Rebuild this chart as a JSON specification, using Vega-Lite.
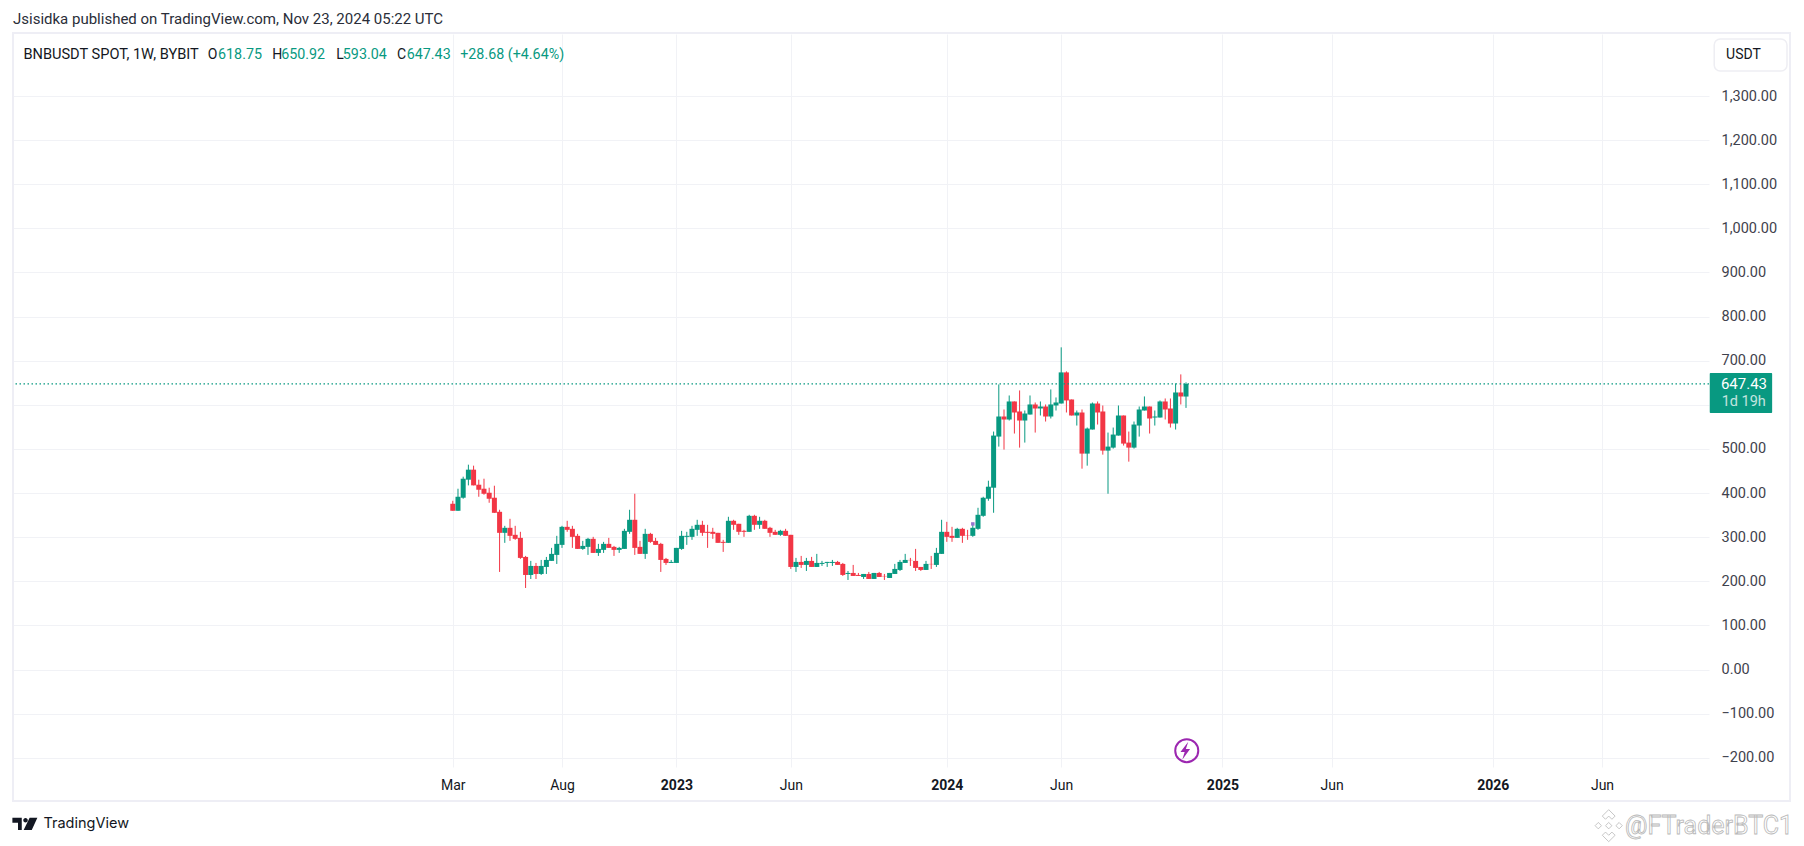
{
  "$schema": "https://vega.github.io/schema/vega-lite/v6.json",
  "description": "BNBUSDT weekly candles, Bybit spot",
  "width": 1696,
  "height": 733,
  "autosize": "none",
  "padding": {"left": 13, "top": 34, "right": 95, "bottom": 79},
  "background": "white",
  "config": {
    "view": {"stroke": null},
    "text": {"font": "Roboto", "fontSize": 14, "align": "left", "baseline": "middle"}
  },
  "title": {
    "text": "Jsisidka published on TradingView.com, Nov 23, 2024 05:22 UTC",
    "anchor": "start",
    "frame": "group",
    "offset": 5,
    "font": "Roboto",
    "fontSize": 15,
    "fontWeight": "normal",
    "color": "#2a2e39"
  },
  "datasets": {
    "candles": [
      {"date":"2022-03-07","open":375.7,"high":382.5,"low":359.8,"close":359.8},
      {"date":"2022-03-14","open":359.8,"high":409.8,"low":359.8,"close":391.6},
      {"date":"2022-03-21","open":389.4,"high":437.1,"low":387.1,"close":432.5},
      {"date":"2022-03-28","open":430.3,"high":464.3,"low":417.4,"close":453.0},
      {"date":"2022-04-04","open":453.0,"high":462.1,"low":417.4,"close":417.4},
      {"date":"2022-04-11","open":418.9,"high":430.3,"low":391.6,"close":407.5},
      {"date":"2022-04-18","open":409.8,"high":432.5,"low":396.2,"close":398.4},
      {"date":"2022-04-25","open":400.7,"high":412.1,"low":378.0,"close":387.1},
      {"date":"2022-05-02","open":389.4,"high":416.6,"low":355.2,"close":355.2},
      {"date":"2022-05-09","open":357.5,"high":362.1,"low":221.2,"close":309.8},
      {"date":"2022-05-16","open":309.8,"high":325.7,"low":287.1,"close":321.2},
      {"date":"2022-05-23","open":321.2,"high":341.6,"low":291.6,"close":303.0},
      {"date":"2022-05-30","open":305.3,"high":325.7,"low":293.9,"close":296.2},
      {"date":"2022-06-06","open":298.4,"high":312.1,"low":250.7,"close":253.0},
      {"date":"2022-06-13","open":255.2,"high":257.5,"low":184.8,"close":214.3},
      {"date":"2022-06-20","open":214.3,"high":246.2,"low":205.2,"close":234.8},
      {"date":"2022-06-27","open":234.8,"high":241.6,"low":205.2,"close":216.6},
      {"date":"2022-07-04","open":216.6,"high":248.4,"low":214.3,"close":234.8},
      {"date":"2022-07-11","open":232.5,"high":255.2,"low":216.6,"close":248.4},
      {"date":"2022-07-18","open":246.2,"high":275.7,"low":246.2,"close":262.1},
      {"date":"2022-07-25","open":259.8,"high":303.0,"low":239.3,"close":284.8},
      {"date":"2022-08-01","open":282.5,"high":325.7,"low":275.7,"close":323.4},
      {"date":"2022-08-08","open":323.4,"high":337.1,"low":312.1,"close":316.6},
      {"date":"2022-08-15","open":318.9,"high":325.7,"low":275.7,"close":300.7},
      {"date":"2022-08-22","open":303.0,"high":307.5,"low":273.4,"close":273.4},
      {"date":"2022-08-29","open":273.4,"high":291.6,"low":271.2,"close":280.2},
      {"date":"2022-09-05","open":278.0,"high":298.4,"low":259.8,"close":296.2},
      {"date":"2022-09-12","open":296.2,"high":300.7,"low":264.3,"close":264.3},
      {"date":"2022-09-19","open":264.3,"high":284.8,"low":257.5,"close":273.4},
      {"date":"2022-09-26","open":271.2,"high":289.3,"low":264.3,"close":284.8},
      {"date":"2022-10-03","open":284.8,"high":298.4,"low":275.7,"close":275.7},
      {"date":"2022-10-10","open":278.0,"high":280.2,"low":257.5,"close":271.2},
      {"date":"2022-10-17","open":271.2,"high":278.0,"low":264.3,"close":275.7},
      {"date":"2022-10-24","open":273.4,"high":318.9,"low":273.4,"close":314.3},
      {"date":"2022-10-31","open":312.1,"high":362.1,"low":307.5,"close":339.4},
      {"date":"2022-11-07","open":339.4,"high":398.4,"low":259.8,"close":275.7},
      {"date":"2022-11-14","open":278.0,"high":291.6,"low":262.1,"close":262.1},
      {"date":"2022-11-21","open":262.1,"high":318.9,"low":250.7,"close":307.5},
      {"date":"2022-11-28","open":307.5,"high":309.8,"low":287.1,"close":289.3},
      {"date":"2022-12-05","open":291.6,"high":298.4,"low":282.5,"close":282.5},
      {"date":"2022-12-12","open":284.8,"high":287.1,"low":221.2,"close":248.4},
      {"date":"2022-12-19","open":250.7,"high":253.0,"low":237.1,"close":241.6},
      {"date":"2022-12-26","open":241.6,"high":248.4,"low":241.6,"close":243.9},
      {"date":"2023-01-02","open":241.6,"high":275.7,"low":241.6,"close":275.7},
      {"date":"2023-01-09","open":273.4,"high":314.3,"low":271.2,"close":303.0},
      {"date":"2023-01-16","open":300.7,"high":312.1,"low":282.5,"close":303.0},
      {"date":"2023-01-23","open":300.7,"high":325.7,"low":293.9,"close":318.9},
      {"date":"2023-01-30","open":316.6,"high":339.4,"low":303.0,"close":328.0},
      {"date":"2023-02-06","open":328.0,"high":337.1,"low":303.0,"close":309.8},
      {"date":"2023-02-13","open":312.1,"high":328.0,"low":275.7,"close":309.8},
      {"date":"2023-02-20","open":312.1,"high":321.2,"low":296.2,"close":307.5},
      {"date":"2023-02-27","open":309.8,"high":309.8,"low":287.1,"close":287.1},
      {"date":"2023-03-06","open":289.4,"high":293.9,"low":266.6,"close":287.1},
      {"date":"2023-03-13","open":287.1,"high":346.2,"low":287.1,"close":337.1},
      {"date":"2023-03-20","open":337.1,"high":339.4,"low":316.6,"close":328.0},
      {"date":"2023-03-27","open":330.3,"high":330.3,"low":305.3,"close":312.1},
      {"date":"2023-04-03","open":314.4,"high":316.6,"low":300.7,"close":312.1},
      {"date":"2023-04-10","open":312.1,"high":350.7,"low":312.1,"close":348.4},
      {"date":"2023-04-17","open":348.4,"high":350.7,"low":316.6,"close":328.0},
      {"date":"2023-04-24","open":328.0,"high":346.2,"low":318.9,"close":337.1},
      {"date":"2023-05-01","open":337.1,"high":339.4,"low":318.9,"close":318.9},
      {"date":"2023-05-08","open":321.2,"high":323.4,"low":300.7,"close":309.8},
      {"date":"2023-05-15","open":312.1,"high":316.6,"low":305.3,"close":305.3},
      {"date":"2023-05-22","open":305.3,"high":316.6,"low":303.0,"close":314.4},
      {"date":"2023-05-29","open":314.4,"high":318.9,"low":303.0,"close":303.0},
      {"date":"2023-06-05","open":305.3,"high":305.3,"low":228.0,"close":232.5},
      {"date":"2023-06-12","open":232.5,"high":253.0,"low":221.2,"close":243.9},
      {"date":"2023-06-19","open":243.9,"high":257.5,"low":230.3,"close":237.1},
      {"date":"2023-06-26","open":237.1,"high":253.0,"low":223.4,"close":246.2},
      {"date":"2023-07-03","open":246.2,"high":255.3,"low":232.5,"close":232.5},
      {"date":"2023-07-10","open":232.5,"high":262.1,"low":232.5,"close":241.6},
      {"date":"2023-07-17","open":239.4,"high":246.2,"low":234.8,"close":241.6},
      {"date":"2023-07-24","open":241.6,"high":243.9,"low":232.5,"close":243.9},
      {"date":"2023-07-31","open":241.6,"high":248.4,"low":234.8,"close":243.9},
      {"date":"2023-08-07","open":243.9,"high":246.2,"low":237.1,"close":237.1},
      {"date":"2023-08-14","open":239.4,"high":241.6,"low":212.1,"close":214.4},
      {"date":"2023-08-21","open":216.6,"high":223.4,"low":203.0,"close":218.9},
      {"date":"2023-08-28","open":218.9,"high":237.1,"low":212.1,"close":212.1},
      {"date":"2023-09-04","open":214.4,"high":218.9,"low":212.1,"close":212.1},
      {"date":"2023-09-11","open":209.8,"high":216.6,"low":205.3,"close":216.6},
      {"date":"2023-09-18","open":216.6,"high":221.2,"low":205.3,"close":205.3},
      {"date":"2023-09-25","open":205.3,"high":218.9,"low":205.3,"close":218.9},
      {"date":"2023-10-02","open":218.9,"high":221.2,"low":209.8,"close":209.8},
      {"date":"2023-10-09","open":212.1,"high":216.6,"low":203.0,"close":211.3},
      {"date":"2023-10-16","open":207.5,"high":218.9,"low":207.5,"close":218.9},
      {"date":"2023-10-23","open":216.6,"high":239.4,"low":216.6,"close":228.0},
      {"date":"2023-10-30","open":225.7,"high":248.4,"low":223.4,"close":243.9},
      {"date":"2023-11-06","open":241.6,"high":262.1,"low":241.6,"close":248.4},
      {"date":"2023-11-13","open":248.4,"high":253.0,"low":234.8,"close":247.7},
      {"date":"2023-11-20","open":246.2,"high":273.4,"low":223.4,"close":230.3},
      {"date":"2023-11-27","open":232.5,"high":232.5,"low":223.4,"close":225.7},
      {"date":"2023-12-04","open":225.7,"high":246.2,"low":225.7,"close":239.4},
      {"date":"2023-12-11","open":239.4,"high":257.5,"low":228.0,"close":238.6},
      {"date":"2023-12-18","open":237.1,"high":275.7,"low":232.5,"close":264.4},
      {"date":"2023-12-25","open":262.1,"high":339.4,"low":262.1,"close":312.1},
      {"date":"2024-01-01","open":312.1,"high":334.8,"low":289.4,"close":300.7},
      {"date":"2024-01-08","open":303.0,"high":323.4,"low":289.4,"close":298.4},
      {"date":"2024-01-15","open":298.4,"high":321.2,"low":298.4,"close":318.9},
      {"date":"2024-01-22","open":318.9,"high":321.2,"low":287.1,"close":303.0},
      {"date":"2024-01-29","open":304.5,"high":316.6,"low":293.9,"close":303.8},
      {"date":"2024-02-05","open":303.0,"high":331.8,"low":300.7,"close":321.2},
      {"date":"2024-02-12","open":318.9,"high":366.6,"low":316.6,"close":350.7},
      {"date":"2024-02-19","open":348.4,"high":391.6,"low":346.2,"close":389.4},
      {"date":"2024-02-26","open":387.1,"high":428.0,"low":382.5,"close":414.4},
      {"date":"2024-03-04","open":412.1,"high":539.4,"low":355.3,"close":530.3},
      {"date":"2024-03-11","open":528.0,"high":646.2,"low":505.3,"close":573.5},
      {"date":"2024-03-18","open":573.5,"high":589.4,"low":498.5,"close":566.7},
      {"date":"2024-03-25","open":566.7,"high":621.2,"low":564.4,"close":607.6},
      {"date":"2024-04-01","open":607.6,"high":607.6,"low":534.9,"close":582.6},
      {"date":"2024-04-08","open":584.9,"high":632.6,"low":503.0,"close":564.4},
      {"date":"2024-04-15","open":564.4,"high":587.1,"low":514.4,"close":580.3},
      {"date":"2024-04-22","open":578.0,"high":621.2,"low":578.0,"close":600.8},
      {"date":"2024-04-29","open":600.8,"high":605.3,"low":537.1,"close":591.7},
      {"date":"2024-05-06","open":591.7,"high":607.6,"low":575.8,"close":596.2},
      {"date":"2024-05-13","open":596.2,"high":600.8,"low":562.1,"close":573.5},
      {"date":"2024-05-20","open":573.5,"high":634.9,"low":569.0,"close":600.8},
      {"date":"2024-05-27","open":598.5,"high":616.7,"low":587.1,"close":605.3},
      {"date":"2024-06-03","open":603.0,"high":730.3,"low":603.0,"close":673.5},
      {"date":"2024-06-10","open":673.5,"high":675.8,"low":582.6,"close":609.9},
      {"date":"2024-06-17","open":612.1,"high":612.1,"low":575.8,"close":575.8},
      {"date":"2024-06-24","open":575.8,"high":587.1,"low":553.0,"close":582.6},
      {"date":"2024-07-01","open":582.6,"high":589.4,"low":455.3,"close":489.4},
      {"date":"2024-07-08","open":489.4,"high":548.5,"low":462.1,"close":546.2},
      {"date":"2024-07-15","open":544.0,"high":605.3,"low":544.0,"close":603.0},
      {"date":"2024-07-22","open":603.0,"high":607.6,"low":555.3,"close":582.6},
      {"date":"2024-07-29","open":584.9,"high":598.5,"low":487.1,"close":496.2},
      {"date":"2024-08-05","open":496.2,"high":537.1,"low":398.5,"close":505.3},
      {"date":"2024-08-12","open":503.0,"high":548.5,"low":500.8,"close":532.6},
      {"date":"2024-08-19","open":530.3,"high":598.5,"low":530.3,"close":575.8},
      {"date":"2024-08-26","open":575.8,"high":575.8,"low":507.6,"close":512.1},
      {"date":"2024-09-02","open":514.4,"high":539.4,"low":471.2,"close":503.0},
      {"date":"2024-09-09","open":503.0,"high":562.1,"low":500.8,"close":555.3},
      {"date":"2024-09-16","open":553.0,"high":596.2,"low":528.0,"close":589.4},
      {"date":"2024-09-23","open":587.1,"high":619.0,"low":587.1,"close":596.2},
      {"date":"2024-09-30","open":596.2,"high":596.2,"low":534.9,"close":569.0},
      {"date":"2024-10-07","open":571.2,"high":587.1,"low":553.0,"close":573.5},
      {"date":"2024-10-14","open":571.2,"high":609.9,"low":571.2,"close":607.6},
      {"date":"2024-10-21","open":607.6,"high":614.4,"low":566.7,"close":589.4},
      {"date":"2024-10-28","open":591.7,"high":614.4,"low":548.5,"close":557.6},
      {"date":"2024-11-04","open":557.6,"high":648.5,"low":544.0,"close":628.0},
      {"date":"2024-11-11","open":628.0,"high":669.0,"low":600.8,"close":618.9},
      {"date":"2024-11-18","open":618.75,"high":650.92,"low":593.04,"close":647.43}
    ]
  },
  "layer": [
    {
      "data": {"name": "candles"},
      "mark": {"type": "rule", "strokeWidth": 1},
      "encoding": {
        "x": {
          "field": "date",
          "type": "temporal",
          "title": null,
          "scale": {"type": "utc", "domain": ["2020-07-23", "2026-10-23"], "nice": false, "padding": 0},
          "axis": {
            "orient": "bottom",
            "values": ["2022-03-07", "2022-08-01", "2023-01-02", "2023-06-05", "2024-01-01", "2024-06-03", "2025-01-06", "2025-06-02", "2026-01-05", "2026-06-01"],
            "labelExpr": "utcFormat(datum.value, utcmonth(datum.value) == 0 ? '%Y' : '%b')",
            "labelFontWeight": {"condition": {"test": "utcmonth(datum.value) == 0", "value": "bold"}, "value": "normal"},
            "labelFont": "Roboto",
            "labelFontSize": 14,
            "labelColor": "#131722",
            "labelPadding": 11,
            "labelFlush": false,
            "labelOverlap": false,
            "domain": false,
            "ticks": false,
            "grid": true,
            "gridColor": "#f1f2f6",
            "gridWidth": 1
          }
        },
        "y": {
          "field": "low",
          "type": "quantitative",
          "title": null,
          "scale": {"domain": [-221, 1440.6], "nice": false, "zero": false},
          "axis": {
            "orient": "right",
            "values": [-200, -100, 0, 100, 200, 300, 400, 500, 600, 700, 800, 900, 1000, 1100, 1200, 1300],
            "labelExpr": "datum.value == 600 ? '' : format(datum.value, ',.2f')",
            "labelFont": "Roboto",
            "labelFontSize": 14.5,
            "labelColor": "#3f424d",
            "labelAlign": "left",
            "labelPadding": 12,
            "labelFlush": false,
            "labelOverlap": false,
            "domain": false,
            "ticks": false,
            "grid": true,
            "gridColor": "#f1f2f6",
            "gridWidth": 1
          }
        },
        "y2": {"field": "high"},
        "color": {"condition": {"test": "datum.close >= datum.open", "value": "#089981"}, "value": "#f23645"}
      }
    },
    {
      "data": {"values": [{"date": "2024-02-05", "price": 330}]},
      "mark": {"type": "point", "shape": "square", "filled": true, "color": "#9575cd", "opacity": 1, "size": 12},
      "encoding": {
        "x": {"field": "date", "type": "temporal"},
        "y": {"field": "price", "type": "quantitative"}
      }
    },
    {
      "data": {"name": "candles"},
      "mark": {"type": "bar", "size": 5},
      "encoding": {
        "x": {"field": "date", "type": "temporal"},
        "y": {"field": "open", "type": "quantitative"},
        "y2": {"field": "close"},
        "color": {"condition": {"test": "datum.close >= datum.open", "value": "#089981"}, "value": "#f23645"}
      }
    },
    {
      "data": {"values": [{"price": 647.43}]},
      "mark": {"type": "rule", "color": "#089981", "strokeWidth": 1.2, "strokeDash": [1.5, 2.5]},
      "encoding": {"y": {"field": "price", "type": "quantitative"}}
    },
    {
      "data": {"values": [{"date": "2020-07-23", "date2": "2027-02-09", "price": 1442.8, "price2": -298.3}]},
      "mark": {"type": "rect", "fillOpacity": 0, "stroke": "#eeeef5", "strokeWidth": 2},
      "encoding": {
        "x": {"field": "date", "type": "temporal"},
        "x2": {"field": "date2"},
        "y": {"field": "price", "type": "quantitative"},
        "y2": {"field": "price2"}
      }
    },
    {
      "data": {"values": [{"date": "2026-10-30", "date2": "2027-02-05", "price": 1429.2, "price2": 1356.7}]},
      "mark": {"type": "rect", "fill": "white", "stroke": "#eeeef3", "strokeWidth": 1.5, "cornerRadius": 6},
      "encoding": {
        "x": {"field": "date", "type": "temporal"},
        "x2": {"field": "date2"},
        "y": {"field": "price", "type": "quantitative"},
        "y2": {"field": "price2"}
      }
    },
    {
      "data": {"values": [{"date": "2026-10-24", "date2": "2027-01-16", "price": 672, "price2": 581.3}]},
      "mark": {"type": "rect", "fill": "#089981", "cornerRadius": 1},
      "encoding": {
        "x": {"field": "date", "type": "temporal"},
        "x2": {"field": "date2"},
        "y": {"field": "price", "type": "quantitative"},
        "y2": {"field": "price2"}
      }
    },
    {
      "data": {"values": [
        {"label": "647.43", "date": "2026-11-08", "price": 646.4}
      ]},
      "mark": {"type": "text", "color": "white", "fontSize": 15},
      "encoding": {
        "x": {"field": "date", "type": "temporal"},
        "y": {"field": "price", "type": "quantitative"},
        "text": {"field": "label"}
      }
    },
    {
      "data": {"values": [
        {"label": "1d 19h", "date": "2026-11-09", "price": 605.6}
      ]},
      "mark": {"type": "text", "color": "white", "opacity": 0.75, "fontSize": 14.5},
      "encoding": {
        "x": {"field": "date", "type": "temporal"},
        "y": {"field": "price", "type": "quantitative"},
        "text": {"field": "label"}
      }
    },
    {
      "data": {"values": [
        {"label": "BNBUSDT SPOT, 1W, BYBIT", "date": "2020-08-06", "price": 1393}
      ]},
      "mark": {"type": "text", "color": "#131722", "fontSize": 14.6},
      "encoding": {
        "x": {"field": "date", "type": "temporal"},
        "y": {"field": "price", "type": "quantitative"},
        "text": {"field": "label"}
      }
    },
    {
      "data": {"values": [
        {"label": "O", "date": "2021-04-11", "price": 1393},
        {"label": "H", "date": "2021-07-07", "price": 1393},
        {"label": "L", "date": "2021-10-01", "price": 1393},
        {"label": "C", "date": "2021-12-22", "price": 1393},
        {"label": "USDT", "date": "2026-11-15", "price": 1393}
      ]},
      "mark": {"type": "text", "color": "#131722"},
      "encoding": {
        "x": {"field": "date", "type": "temporal"},
        "y": {"field": "price", "type": "quantitative"},
        "text": {"field": "label"}
      }
    },
    {
      "data": {"values": [
        {"label": "618.75", "date": "2021-04-25", "price": 1393},
        {"label": "650.92", "date": "2021-07-19", "price": 1393},
        {"label": "593.04", "date": "2021-10-10", "price": 1393},
        {"label": "647.43", "date": "2022-01-04", "price": 1393},
        {"label": "+28.68 (+4.64%)", "date": "2022-03-17", "price": 1393}
      ]},
      "mark": {"type": "text", "color": "#089981", "fontSize": 14.3},
      "encoding": {
        "x": {"field": "date", "type": "temporal"},
        "y": {"field": "price", "type": "quantitative"},
        "text": {"field": "label"}
      }
    },
    {
      "data": {"values": [{"label": "TradingView", "date": "2020-09-02", "price": -351}]},
      "mark": {"type": "text", "color": "#131722", "font": "Inter", "fontSize": 14.5},
      "encoding": {
        "x": {"field": "date", "type": "temporal"},
        "y": {"field": "price", "type": "quantitative"},
        "text": {"field": "label"}
      }
    },
    {
      "data": {"values": [{"date": "2020-08-08", "price": -350}]},
      "mark": {
        "type": "point",
        "filled": true,
        "color": "#131722",
        "opacity": 1,
        "size": 625,
        "shape": "M-1,-0.49 L-0.25,-0.49 L-0.25,0.49 L-0.55,0.49 L-0.55,-0.1 L-1,-0.1 Z M0.23,-0.3 A0.18,0.18 0 1 1 -0.13,-0.3 A0.18,0.18 0 1 1 0.23,-0.3 Z M0.38,-0.49 L1,-0.49 L0.55,0.49 L-0.1,0.49 Z"
      },
      "encoding": {
        "x": {"field": "date", "type": "temporal"},
        "y": {"field": "price", "type": "quantitative"}
      }
    },
    {
      "data": {"values": [{"date": "2024-11-19", "price": -184}]},
      "mark": {"type": "point", "shape": "circle", "size": 531, "filled": false, "stroke": "#9c27b0", "strokeWidth": 2, "opacity": 1},
      "encoding": {
        "x": {"field": "date", "type": "temporal"},
        "y": {"field": "price", "type": "quantitative"}
      }
    },
    {
      "data": {"values": [{"date": "2024-11-17", "price": -184}]},
      "mark": {
        "type": "point",
        "filled": true,
        "color": "#9c27b0",
        "opacity": 1,
        "size": 576,
        "shape": "M0.25,-0.75 L-0.4,0.1 L-0.05,0.1 L-0.25,0.75 L0.4,-0.15 L0.05,-0.15 Z"
      },
      "encoding": {
        "x": {"field": "date", "type": "temporal"},
        "y": {"field": "price", "type": "quantitative"}
      }
    },
    {
      "data": {"values": [{"label": "@FTraderBTC1", "date": "2026-07-02", "price": -354}]},
      "mark": {"type": "text", "font": "Roboto", "fontSize": 25, "fill": "white", "stroke": "#b8b8b8", "strokeWidth": 0.8},
      "encoding": {
        "x": {"field": "date", "type": "temporal"},
        "y": {"field": "price", "type": "quantitative"},
        "text": {"field": "label"}
      }
    },
    {
      "data": {"values": [{"date": "2026-06-10", "price": -354}]},
      "mark": {
        "type": "point",
        "filled": false,
        "stroke": "#b8b8b8",
        "strokeWidth": 0.8,
        "opacity": 1,
        "size": 1024,
        "shape": "M0,-1 L0.4,-0.6 L0.2,-0.4 L0,-0.6 L-0.2,-0.4 L-0.4,-0.6 Z M0,-0.2 L0.2,0 L0,0.2 L-0.2,0 Z M-0.65,-0.2 L-0.45,0 L-0.65,0.2 L-0.85,0 Z M0.65,-0.2 L0.85,0 L0.65,0.2 L0.45,0 Z M0,1 L0.4,0.6 L0.2,0.4 L0,0.6 L-0.2,0.4 L-0.4,0.6 Z"
      },
      "encoding": {
        "x": {"field": "date", "type": "temporal"},
        "y": {"field": "price", "type": "quantitative"}
      }
    }
  ]
}
